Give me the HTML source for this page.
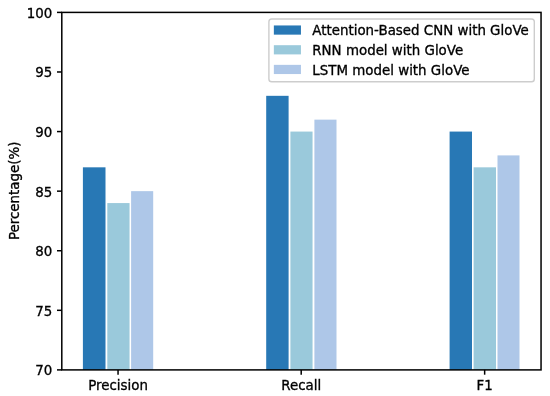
<!DOCTYPE html>
<html><head><meta charset="utf-8"><title>Chart</title>
<style>
html,body{margin:0;padding:0;background:#fff;}
body{width:550px;height:396px;overflow:hidden;}
svg{display:block;}
svg text{font-family:"DejaVu Sans","Liberation Sans",sans-serif;font-size:13.40px;fill:#000;stroke:#000;stroke-width:0.32px;}
svg text.lg{font-size:13.40px;}
</style></head><body>
<svg width="550" height="396" viewBox="0 0 550 396">
<rect x="0" y="0" width="550" height="396" fill="#ffffff"/>
<rect x="82.90" y="167.32" width="22.60" height="202.58" fill="#2878b5"/>
<rect x="107.30" y="203.07" width="22.25" height="166.83" fill="#9ac9db"/>
<rect x="131.10" y="191.15" width="22.10" height="178.75" fill="#aec7e8"/>
<rect x="266.20" y="95.82" width="22.40" height="274.08" fill="#2878b5"/>
<rect x="290.40" y="131.57" width="22.15" height="238.33" fill="#9ac9db"/>
<rect x="314.40" y="119.65" width="22.10" height="250.25" fill="#aec7e8"/>
<rect x="449.60" y="131.57" width="22.40" height="238.33" fill="#2878b5"/>
<rect x="473.60" y="167.32" width="22.40" height="202.58" fill="#9ac9db"/>
<rect x="497.50" y="155.40" width="22.00" height="214.50" fill="#aec7e8"/>
<rect x="61.80" y="12.40" width="479.25" height="357.50" fill="none" stroke="#000" stroke-width="1.50" stroke-linejoin="miter"/>
<line x1="118.05" y1="369.90" x2="118.05" y2="374.70" stroke="#000" stroke-width="1.50"/>
<line x1="301.20" y1="369.90" x2="301.20" y2="374.70" stroke="#000" stroke-width="1.50"/>
<line x1="484.65" y1="369.90" x2="484.65" y2="374.70" stroke="#000" stroke-width="1.50"/>
<line x1="57.00" y1="369.90" x2="61.80" y2="369.90" stroke="#000" stroke-width="1.50"/>
<text x="52.20" y="375.40" text-anchor="end">70</text>
<line x1="57.00" y1="310.32" x2="61.80" y2="310.32" stroke="#000" stroke-width="1.50"/>
<text x="52.20" y="315.82" text-anchor="end">75</text>
<line x1="57.00" y1="250.73" x2="61.80" y2="250.73" stroke="#000" stroke-width="1.50"/>
<text x="52.20" y="256.23" text-anchor="end">80</text>
<line x1="57.00" y1="191.15" x2="61.80" y2="191.15" stroke="#000" stroke-width="1.50"/>
<text x="52.20" y="196.65" text-anchor="end">85</text>
<line x1="57.00" y1="131.57" x2="61.80" y2="131.57" stroke="#000" stroke-width="1.50"/>
<text x="52.20" y="137.07" text-anchor="end">90</text>
<line x1="57.00" y1="71.98" x2="61.80" y2="71.98" stroke="#000" stroke-width="1.50"/>
<text x="52.20" y="77.48" text-anchor="end">95</text>
<line x1="57.00" y1="12.40" x2="61.80" y2="12.40" stroke="#000" stroke-width="1.50"/>
<text x="52.20" y="17.90" text-anchor="end">100</text>
<text x="118.05" y="389.80" text-anchor="middle">Precision</text>
<text x="301.20" y="389.80" text-anchor="middle">Recall</text>
<text x="484.65" y="389.80" text-anchor="middle">F1</text>
<text transform="translate(18.90,190.85) rotate(-90)" text-anchor="middle">Percentage(%)</text>
<rect x="268.90" y="18.95" width="265.40" height="62.85" rx="2.8" ry="2.8" fill="#ffffff" fill-opacity="0.8" stroke="#c8c8c8" stroke-opacity="0.9" stroke-width="1.4"/>
<rect x="273.85" y="25.45" width="27.10" height="9.20" fill="#2878b5"/>
<text class="lg" x="312.30" y="35.30">Attention-Based CNN with GloVe</text>
<rect x="273.85" y="45.20" width="27.10" height="9.20" fill="#9ac9db"/>
<text class="lg" x="312.30" y="55.05">RNN model with GloVe</text>
<rect x="273.85" y="64.85" width="27.10" height="9.20" fill="#aec7e8"/>
<text class="lg" x="312.30" y="74.70">LSTM model with GloVe</text>
</svg>
</body></html>
